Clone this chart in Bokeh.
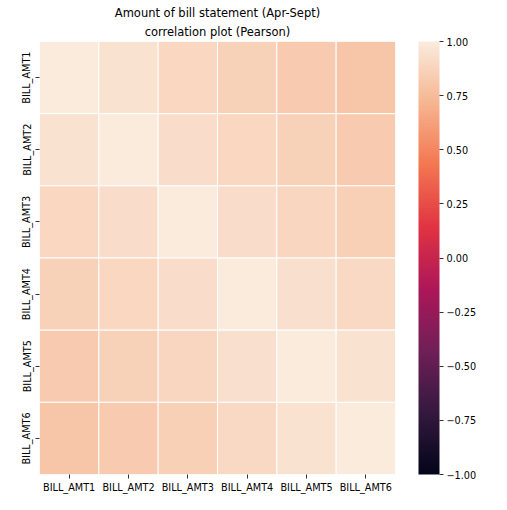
import numpy as np
from bokeh.plotting import figure
from bokeh.layouts import column
from bokeh.models import (ColumnDataSource, LinearColorMapper, ColorBar, FixedTicker,
                          CustomJSTickFormatter, Title, Spacer)
from bokeh.embed import file_html
from bokeh.resources import INLINE

# correlation matrix of BILL_AMT1..6 (Pearson)
cols = ["BILL_AMT1", "BILL_AMT2", "BILL_AMT3", "BILL_AMT4", "BILL_AMT5", "BILL_AMT6"]
amt1 = [1.000, 0.951, 0.892, 0.860, 0.830, 0.803]
amt2 = [0.951, 1.000, 0.928, 0.892, 0.860, 0.832]
amt3 = [0.892, 0.928, 1.000, 0.924, 0.884, 0.853]
amt4 = [0.860, 0.892, 0.924, 1.000, 0.940, 0.901]
amt5 = [0.830, 0.860, 0.884, 0.940, 1.000, 0.946]
amt6 = [0.803, 0.832, 0.853, 0.901, 0.946, 1.000]
rows = [amt1, amt2, amt3, amt4, amt5, amt6]
cbar_ticks = [-1.0, -0.75, -0.5, -0.25, 0.0, 0.25, 0.5, 0.75, 1.0]

# seaborn "rocket" approximated from a few anchor colours
anchors = ["#03051a", "#35193e", "#701f57", "#ad1759", "#e13342", "#f37651", "#f6b48f", "#faebdd"]
anc = np.array([[int(h[i:i + 2], 16) for i in (1, 3, 5)] for h in anchors], dtype=float)
pos = np.linspace(0, 1, len(anchors))
t = np.linspace(0, 1, 256)
rocket = ["#%02x%02x%02x" % tuple(int(round(np.interp(v, pos, anc[:, k]))) for k in range(3)) for v in t]

xs, ys, vals = [], [], []
for i, row in enumerate(rows):
    for j, v in enumerate(row):
        xs.append(cols[j])
        ys.append(cols[i])
        vals.append(v)
src = ColumnDataSource(dict(x=xs, y=ys, r=vals))

mapper = LinearColorMapper(palette=rocket, low=-1, high=1)

font = "DejaVu Sans"
p = figure(x_range=cols, y_range=list(reversed(cols)),
           frame_width=356, frame_height=433,
           output_backend="svg", toolbar_location=None, tools="",
           min_border_left=39, min_border_top=6, min_border_right=10, min_border_bottom=5)
p.title = None
p.add_layout(Title(text="correlation plot (Pearson)", align="center", text_font=font,
                   text_color="#000000", text_font_size="11.5px", text_font_style="normal",
                   text_line_height=1.0, standoff=6), "above")
p.add_layout(Title(text="Amount of bill statement (Apr-Sept)", align="center", text_font=font,
                   text_color="#000000", text_font_size="11.5px", text_font_style="normal",
                   text_line_height=1.0, standoff=0), "above")

p.rect(x="x", y="y", width=1, height=1, source=src,
       fill_color={"field": "r", "transform": mapper},
       line_color="white", line_width=1)

p.outline_line_color = None
p.grid.visible = False
for ax in (p.xaxis[0], p.yaxis[0]):
    ax.axis_line_color = None
    ax.major_tick_in = 0
    ax.major_tick_out = 4
    ax.major_tick_line_color = "#333333"
    ax.minor_tick_line_color = None
    ax.major_label_text_font = font
    ax.major_label_text_font_size = "9.7px"
    ax.major_label_text_color = "#000000"
    ax.major_label_standoff = 3
p.yaxis.major_label_orientation = "vertical"
# rotated y labels end at the tick and run downwards (pad with no-break spaces)
p.yaxis.major_label_overrides = {c: c + "\u00a0" * 17 for c in cols}
p.x_range.range_padding = 0
p.y_range.range_padding = 0

cb = ColorBar(color_mapper=mapper, width=21, height=433, padding=0, margin=0,
              ticker=FixedTicker(ticks=cbar_ticks),
              formatter=CustomJSTickFormatter(code="return tick.toFixed(2).replace('-', '\\u2212')"),
              major_label_text_font=font, major_label_text_font_size="9.7px",
              major_label_text_color="#000000",
              major_tick_in=0, major_tick_out=4, major_tick_line_color="#333333",
              minor_tick_line_color=None, bar_line_color=None, label_standoff=3,
              location=(23, 0))
p.add_layout(cb, "right")

page = column(Spacer(height=3), p, spacing=0)
open("out.html", "w").write(file_html(page, INLINE))
